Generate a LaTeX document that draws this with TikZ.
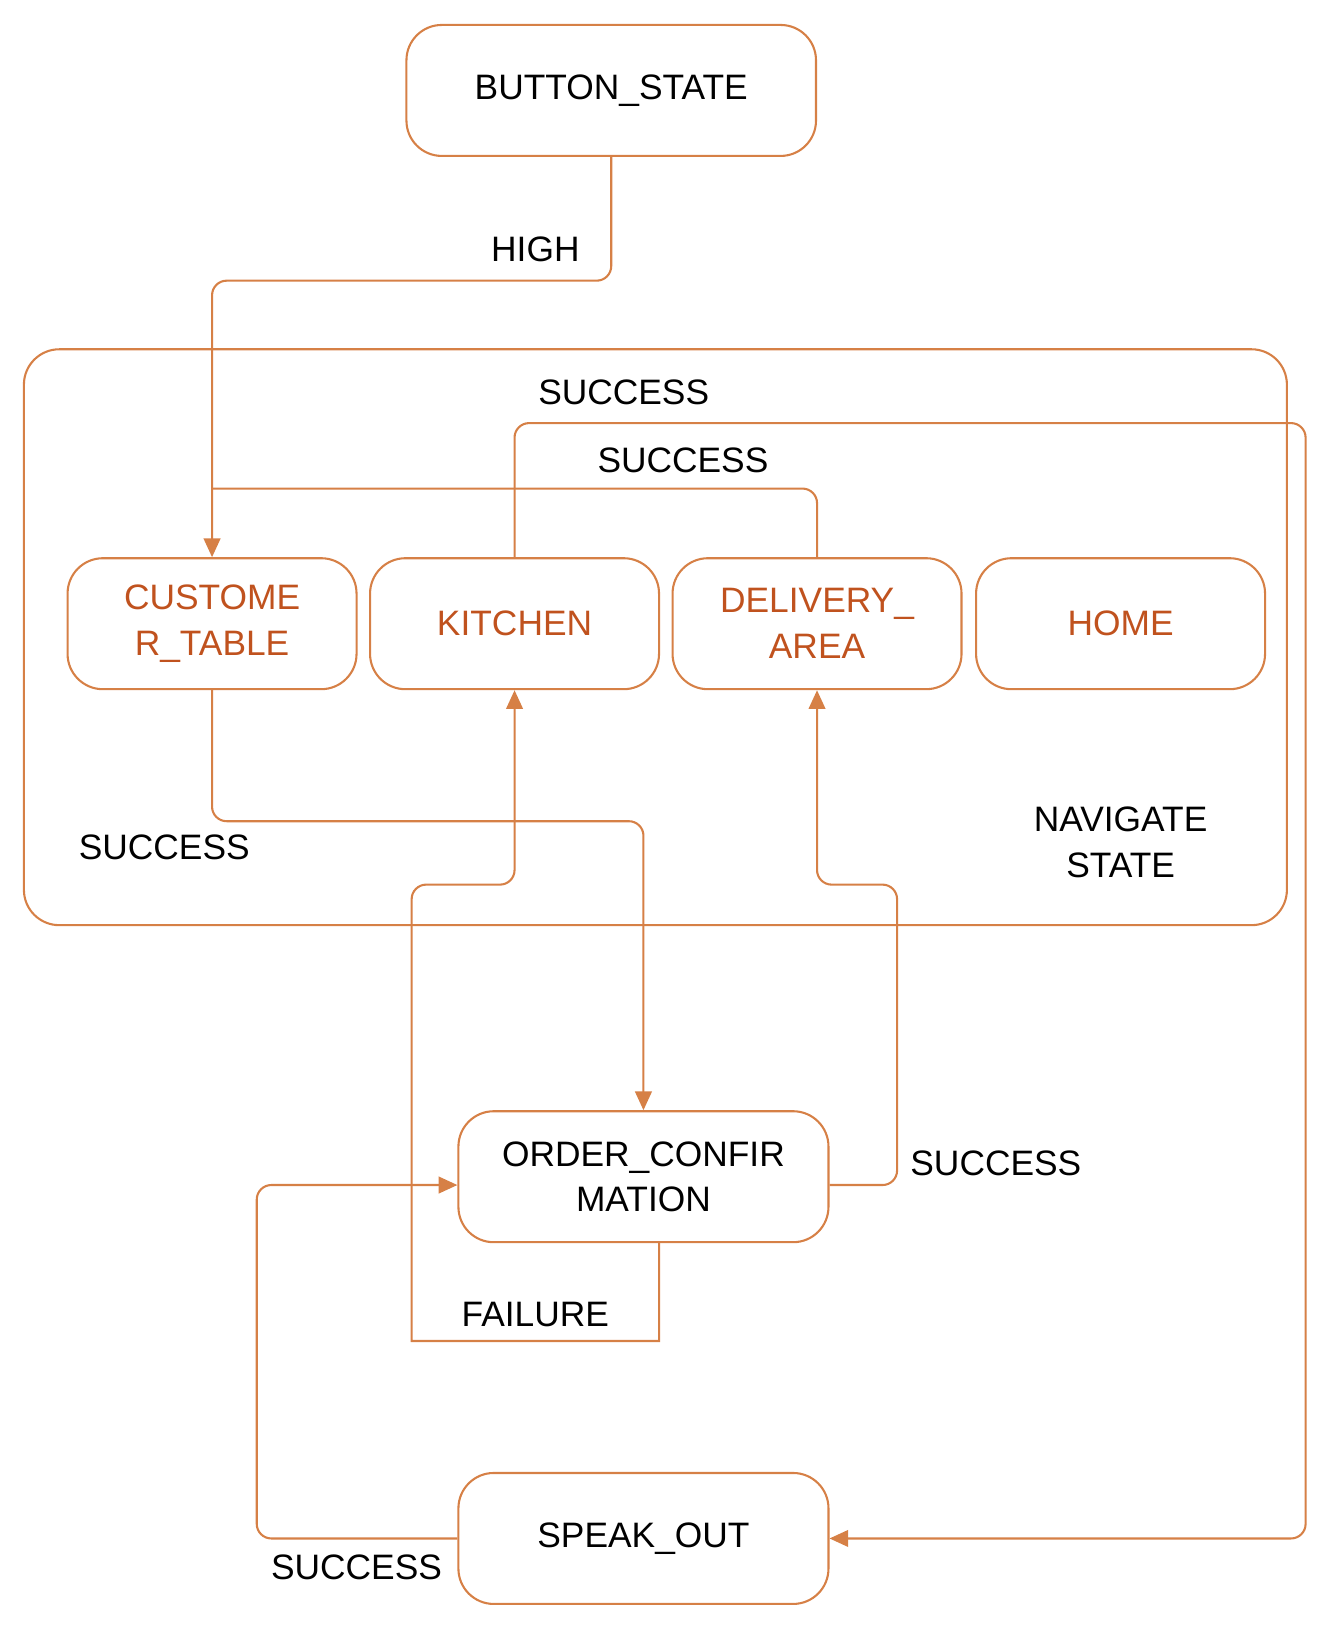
\documentclass[tikz,border=0pt]{standalone}
\usepackage{fontspec}
\setmainfont{Liberation Sans}
\usetikzlibrary{arrows.meta,positioning}
\definecolor{lineorange}{RGB}{214,128,70}
\definecolor{textorange}{RGB}{192,82,30}

\begin{document}
\begin{tikzpicture}[x=0.5pt,y=-0.5pt,
    state/.style={draw=lineorange, line width=1pt, rounded corners=17pt, align=center,
        minimum width=139pt, minimum height=63pt, inner sep=2pt, font=\fontsize{17}{22}\selectfont},
    sub/.style={state, text=textorange},
    link/.style={draw=lineorange, line width=1pt, rounded corners=7pt},
    tip/.style={-{Triangle[length=9pt,width=8pt]}},
    lbl/.style={font=\fontsize{17}{22}\selectfont, align=center}]
    \useasboundingbox (0,0) rectangle (1280,1570);

    % Navigate state frame
    \draw[draw=lineorange, line width=1pt, rounded corners=17pt] (23,336) rectangle (1238,890);
    \node[lbl] (navlbl) at (1078,810) {NAVIGATE\\STATE};

    % States
    \node[state, minimum width=197pt] (button) at (588,87) {BUTTON\_STATE};
    \node[sub] (customer) at (204,600) {CUSTOME\\R\_TABLE};
    \node[sub] (kitchen) at (495,600) {KITCHEN};
    \node[sub] (delivery) at (786,600) {DELIVERY\_\\AREA};
    \node[sub] (home) at (1078,600) {HOME};
    \node[state, minimum width=178pt] (order) at (619,1132) {ORDER\_CONFIR\\MATION};
    \node[state, minimum width=178pt] (speak) at (619,1480) {SPEAK\_OUT};

    % Transitions
    \draw[link, tip] (button.south) -- (588,270) -| (customer.north);
    \node[lbl] (high) at (515,240) {HIGH};

    \draw[link] (delivery.north) |- (204,470);
    \node[lbl] (s1) at (657,443) {SUCCESS};

    \draw[link, tip] (kitchen.north) |- (1256,407) |- (speak.east);
    \node[lbl] (s2) at (600,377) {SUCCESS};

    \draw[link, tip] (customer.south) |- (619,790) -- (order.north);
    \node[lbl] (s3) at (158,815) {SUCCESS};

    \draw[link, tip] (order.east |- 0,1140) -| (863,851) -| (delivery.south);
    \node[lbl] (s4) at (958,1119) {SUCCESS};

    \draw[draw=lineorange, line width=1pt, tip] (634,1196) |- (396,1290) -- (396,1000)
        [rounded corners=7pt] |- (495,851) -- (kitchen.south);
    \node[lbl] (fail) at (515,1265) {FAILURE};

    \draw[link, tip] (speak.west) -| (247,1140) -- (order.west |- 0,1140);
    \node[lbl] (s5) at (343,1508) {SUCCESS};
\end{tikzpicture}
\end{document}
